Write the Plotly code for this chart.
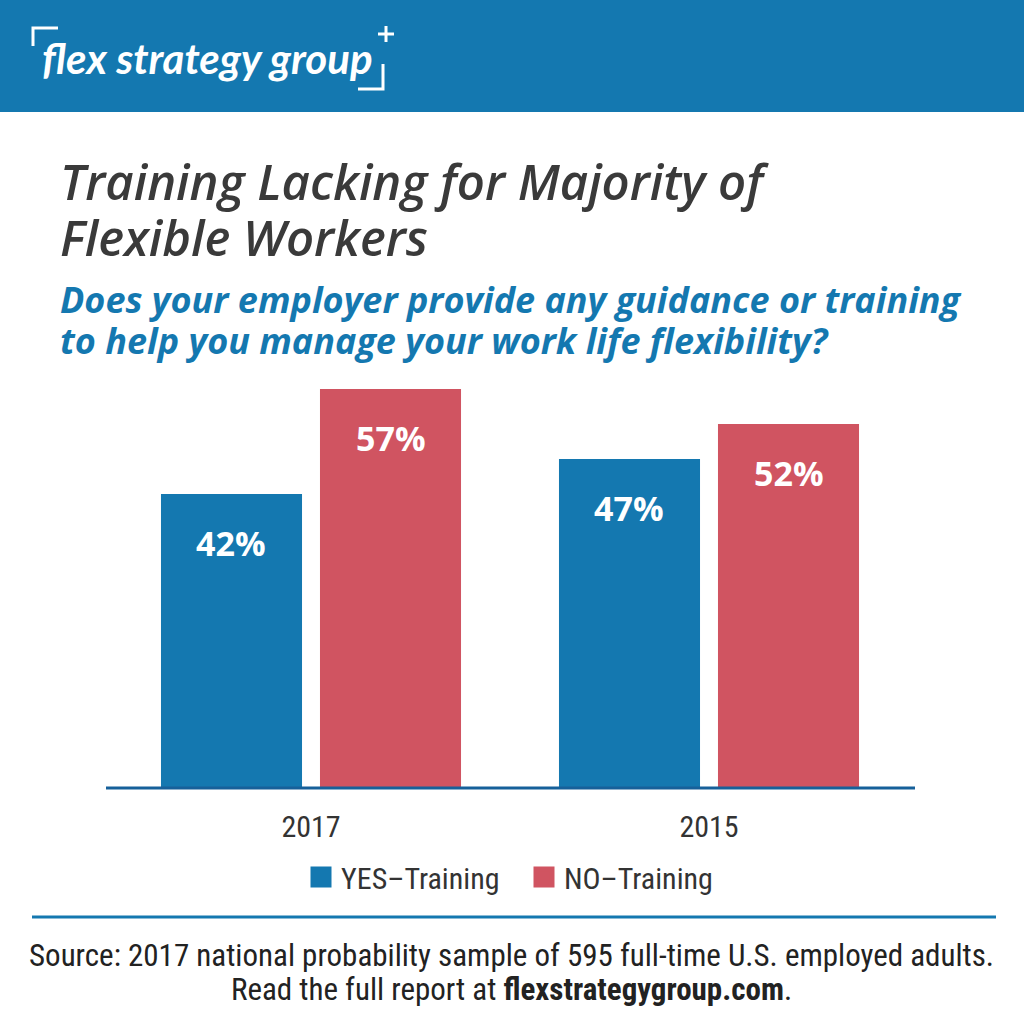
import plotly.graph_objects as go

years = ["2017", "2015"]
series_names = ["YES\u2013Training", "NO\u2013Training"]
yes_values = [42, 47]
no_values = [57, 52]

BLUE = "#1478b0"
RED = "#d05461"
DARK = "#3a3a3a"
W, H = 1024, 1024
L, R, T, B = 112, 116, 368, 236
PW, PH = W - L - R, H - T - B

def px(x):
    return (x - L) / PW

def py(y):
    return (H - B - y) / PH

COND = "Liberation Sans Narrow, Roboto Condensed, Roboto, sans-serif"
HEAD = "Open Sans, Lato, sans-serif"
LOGO = "Lato, Open Sans, sans-serif"

fig = go.Figure()
bargap = 0.201
for name, vals, col in [(series_names[0], yes_values, BLUE), (series_names[1], no_values, RED)]:
    fig.add_trace(go.Bar(x=years, y=vals, name=name, marker=dict(color=col, line=dict(width=0)),
                         showlegend=False, hoverinfo="skip"))
for name, col in [(series_names[0], BLUE), (series_names[1], RED)]:
    fig.add_trace(go.Scatter(x=[None], y=[None], mode="markers", name=name,
                             marker=dict(symbol="square", size=16, color=col, line=dict(color=col, width=5)),
                             showlegend=True, hoverinfo="skip"))

annotations = []
slot = PW / len(years) * (1 - bargap) / 2
for j, vals in enumerate([yes_values, no_values]):
    for i, v in enumerate(vals):
        annotations.append(dict(x=i, y=v, xref="x", yref="y", text=f"<b>{v}%</b>",
                                showarrow=False, yanchor="middle", yshift=-49,
                                xshift=(j - 0.5) * slot,
                                font=dict(family=HEAD, size=34, color="white")))

def txt(x, y, text, size, color, family, anchor="left", weight=None):
    f = dict(family=family, size=size, color=color)
    if weight:
        f["weight"] = weight
    annotations.append(dict(x=px(x), y=py(y), xref="paper", yref="paper", xanchor=anchor, yanchor="middle",
                            text=text, showarrow=False, align=anchor, font=f))

# logo
txt(40, 58, "<b><i>flex strategy group</i></b>", 42, "white", LOGO)
# title
txt(58, 181, "<i>Training Lacking for Majority of</i>", 49, DARK, HEAD, weight=600)
txt(58, 237, "<i>Flexible Workers</i>", 49, DARK, HEAD, weight=600)
# subtitle
txt(58, 300, "<b><i>Does your employer provide any guidance or training</i></b>", 36, BLUE, HEAD)
txt(58, 340, "<b><i>to help you manage your work life flexibility?</i></b>", 36, BLUE, HEAD)
# footer
cx = (W / 2)
txt(cx, 955, "Source: 2017 national probability sample of 595 full-time U.S. employed adults.", 31, "#222222", COND, anchor="center")
txt(cx, 989, "Read the full report at <b>flexstrategygroup.com</b>.", 31, "#222222", COND, anchor="center")

shapes = [
    dict(type="rect", xref="paper", yref="paper", x0=px(0), x1=px(W), y0=py(112), y1=py(0),
         fillcolor=BLUE, line=dict(width=0), layer="below"),
    dict(type="path", xref="paper", yref="paper",
         path=f"M {px(33)} {py(46)} L {px(33)} {py(28)} L {px(58)} {py(28)}",
         line=dict(color="white", width=3)),
    dict(type="path", xref="paper", yref="paper",
         path=f"M {px(383)} {py(64)} L {px(383)} {py(89)} L {px(358)} {py(89)}",
         line=dict(color="white", width=3)),
    dict(type="line", xref="paper", yref="paper", x0=px(378), x1=px(394), y0=py(34), y1=py(34),
         line=dict(color="white", width=3)),
    dict(type="line", xref="paper", yref="paper", x0=px(386), x1=px(386), y0=py(26), y1=py(42),
         line=dict(color="white", width=3)),
    dict(type="line", xref="paper", yref="paper", x0=px(32), x1=px(996), y0=py(917), y1=py(917),
         line=dict(color=BLUE, width=3)),
    dict(type="line", xref="paper", yref="paper", x0=px(106), x1=px(915), y0=0, y1=0,
         line=dict(color="#16609a", width=3), layer="above"),
]

fig.update_layout(
    width=W, height=H, margin=dict(l=L, r=R, t=T, b=B),
    paper_bgcolor="white", plot_bgcolor="white",
    barmode="group", bargap=bargap, bargroupgap=0.113,
    showlegend=True,
    legend=dict(orientation="h", x=px(524), xanchor="center", xref="paper", y=py(877), yanchor="middle",
                font=dict(family=COND, size=30, color="#333333"), itemsizing="trace",
                entrywidth=178, entrywidthmode="pixels",
                bgcolor="rgba(0,0,0,0)", traceorder="normal"),
    xaxis=dict(type="category", categoryorder="array", categoryarray=years, range=[-0.5, len(years) - 0.5],
               showline=False, ticks="", showgrid=False, zeroline=False,
               tickfont=dict(family=COND, size=30, color="#333333"), ticklabelstandoff=18,
               fixedrange=True),
    yaxis=dict(range=[0, 60], visible=False, fixedrange=True),
    annotations=annotations, shapes=shapes,
)

fig.write_html("out.html")
